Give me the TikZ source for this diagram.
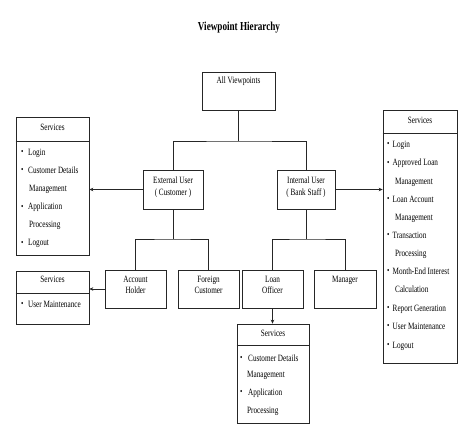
\documentclass[tikz,border=0pt]{standalone}
\usepackage{fontspec}
\setmainfont{Liberation Serif}[FakeStretch=0.75]
\usetikzlibrary{arrows.meta}
\newcommand{\bul}[1]{\makebox[#1][l]{\raisebox{0.3pt}{\fontsize{9}{9}\selectfont\textbullet}}}
\begin{document}
\begin{tikzpicture}[x=1pt,y=-1pt,
  box/.style={draw=black!85, line width=0.65pt, inner sep=0pt},
  txt/.style={font=\fontsize{9.6}{11.5}\selectfont, inner sep=0pt, align=center},
  item/.style={font=\fontsize{9.6}{11}\selectfont, inner sep=0pt, anchor=base west},
  conn/.style={draw=black!85, line width=0.65pt},
  arr/.style={conn, -{Stealth[length=4pt,width=3.5pt]}}]
\useasboundingbox (0,0) rectangle (474,447);

\node[font=\bfseries\fontsize{12.2}{14}\selectfont, inner sep=0pt] (title) at (239,28) {Viewpoint Hierarchy};

% boxes
\node[box, minimum width=73pt, minimum height=38pt] (all) at (238.5,91) {};
\node[box, minimum width=60pt, minimum height=39pt] (ext) at (173,189.5) {};
\node[box, minimum width=58pt, minimum height=39pt] (int) at (306,189.5) {};
\node[box, minimum width=61pt, minimum height=38pt] (ah) at (135.5,289) {};
\node[box, minimum width=61pt, minimum height=38pt] (fc) at (208.5,289) {};
\node[box, minimum width=61pt, minimum height=38pt] (lo) at (272.5,289) {};
\node[box, minimum width=62pt, minimum height=38pt] (mg) at (345,289) {};
\node[box, minimum width=73pt, minimum height=138pt] (s1) at (52.5,186) {};
\node[box, minimum width=74pt, minimum height=253pt] (sr) at (420,236.5) {};
\node[box, minimum width=73pt, minimum height=53pt] (s2) at (52.5,297.5) {};
\node[box, minimum width=72pt, minimum height=99pt] (s3) at (273,373.5) {};

% dividers
\draw[conn] (s1.west |- 0,141) -- (s1.east |- 0,141);
\draw[conn] (sr.west |- 0,133) -- (sr.east |- 0,133);
\draw[conn] (s2.west |- 0,293) -- (s2.east |- 0,293);
\draw[conn] (s3.west |- 0,345) -- (s3.east |- 0,345);

% box texts
\node[txt] (allt) at (238.5,81) {All Viewpoints};
\node[txt] (extt) at (173,187) {External User\\( Customer )};
\node[txt] (intt) at (306,187) {Internal User\\( Bank Staff )};
\node[txt] (aht) at (135.5,285) {Account\\Holder};
\node[txt] (fct) at (208.5,285) {Foreign\\Customer};
\node[txt] (lot) at (272.5,285) {Loan\\Officer};
\node[txt] (mgt) at (345,280) {Manager};

% headers
\node[txt] (h1) at (52.5,127) {Services};
\node[txt] (hr) at (420,120) {Services};
\node[txt] (h2) at (52.5,279) {Services};
\node[txt] (h3) at (273,333) {Services};

% items S1
\node[item] (a1) at (21,155) {\bul{7pt}Login};
\node[item] (a2) at (21,173) {\bul{7pt}Customer Details};
\node[item] (a3) at (29,191) {Management};
\node[item] (a4) at (21,209.5) {\bul{7pt}Application};
\node[item] (a5) at (29,227) {Processing};
\node[item] (a6) at (21,245.5) {\bul{7pt}Logout};

% items S2
\node[item] (b1) at (21,307) {\bul{7pt}User Maintenance};

% items S3
\node[item] (c1) at (240,361) {\bul{8pt}Customer Details};
\node[item] (c2) at (247,377.5) {Management};
\node[item] (c3) at (240,395) {\bul{8pt}Application};
\node[item] (c4) at (247,413) {Processing};

% items SR
\node[item] (r1) at (387,147) {\bul{5.5pt}Login};
\node[item] (r2) at (387,165.5) {\bul{5.5pt}Approved Loan};
\node[item] (r3) at (395,184) {Management};
\node[item] (r4) at (387,202) {\bul{5.5pt}Loan Account};
\node[item] (r5) at (395,220) {Management};
\node[item] (r6) at (387,238) {\bul{5.5pt}Transaction};
\node[item] (r7) at (395,256) {Processing};
\node[item] (r8) at (387,274) {\bul{5.5pt}Month-End Interest};
\node[item] (r9) at (395,292) {Calculation};
\node[item] (r10) at (387,311) {\bul{5.5pt}Report Generation};
\node[item] (r11) at (387,329) {\bul{5.5pt}User Maintenance};
\node[item] (r12) at (387,348) {\bul{5.5pt}Logout};

% tree connectors
\coordinate (j1) at (238.5,141);
\coordinate (j2) at (173,239);
\coordinate (j3) at (306,239);
\draw[conn] (all.south) -- (j1);
\draw[conn] (ext.north) |- (j1) -| (int.north);
\draw[conn] (ext.south) -- (j2);
\draw[conn] (ah.north) |- (j2) -| (fc.north);
\draw[conn] (int.south) -- (j3);
\draw[conn] (lo.north) |- (j3) -| (mg.north);

% arrows to services
\draw[arr] (ext.west) -- (ext.west -| s1.east);
\draw[arr] (int.east) -- (int.east -| sr.west);
\draw[arr] (ah.west) -- (ah.west -| s2.east);
\draw[arr] (lo.south) -- (lo.south |- s3.north);
\end{tikzpicture}
\end{document}
